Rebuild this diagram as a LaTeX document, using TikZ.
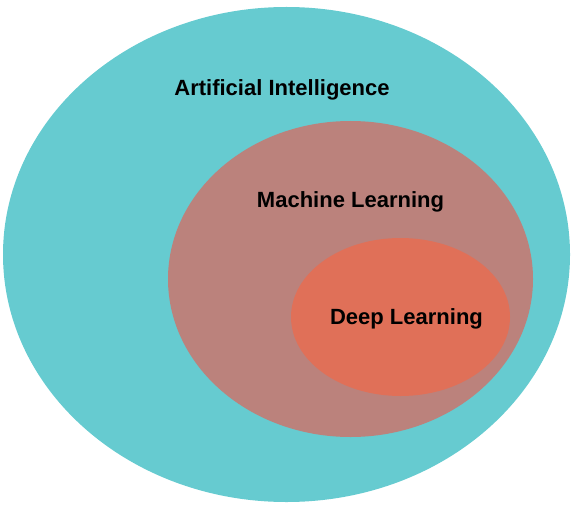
\documentclass[tikz,border=0pt]{standalone}
\usepackage{fontspec}
\setmainfont{Liberation Sans}
\usepackage{xcolor}
\definecolor{aicol}{RGB}{102,203,208}
\definecolor{mlcol}{RGB}{187,130,124}
\definecolor{dlcol}{RGB}{224,112,88}

\begin{document}
\begin{tikzpicture}[x=1pt,y=-1pt,
	lbl/.style={anchor=base,inner sep=0pt,font=\fontsize{22}{26}\selectfont\bfseries}]
	\useasboundingbox (0,0) rectangle (577,513);
	\fill [aicol] (286.5,254.5) ellipse [x radius=283.5pt, y radius=247.5pt];
	\fill [mlcol] (350.5,279) ellipse [x radius=182.5pt, y radius=158pt];
	\fill [dlcol] (400.5,317) ellipse [x radius=109.5pt, y radius=79pt];
	\node [lbl] (ai) at (282,96) {Artificial Intelligence};
	\node [lbl] (ml) at (350.5,207) {Machine Learning};
	\node [lbl] (dl) at (406.5,324) {Deep Learning};
\end{tikzpicture}
\end{document}
